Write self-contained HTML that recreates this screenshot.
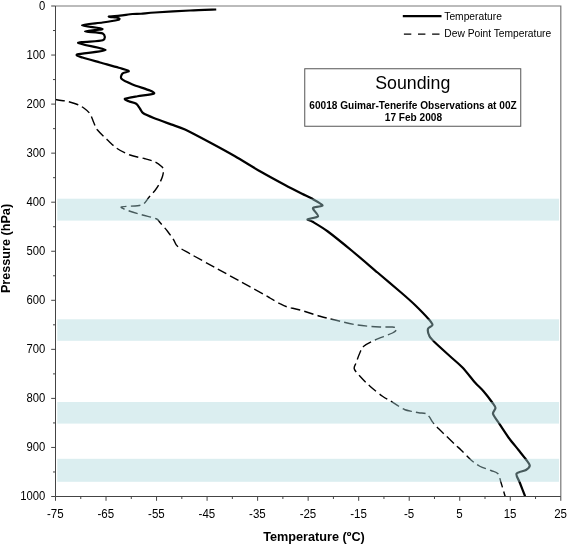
<!DOCTYPE html>
<html lang="en"><head><meta charset="utf-8"><title>Sounding</title>
<style>
html,body{margin:0;padding:0;background:#fff;}
body{width:568px;height:544px;overflow:hidden;}
svg{display:block;font-family:"Liberation Sans",sans-serif;}
</style></head><body>
<svg width="568" height="544" viewBox="0 0 568 544">
<rect x="0" y="0" width="568" height="544" fill="#fff"/>
<path d="M55.5 6.0H560.8V496.5" fill="none" stroke="#787878" stroke-width="1.2"/>
<path d="M216.25 9.5C212.84 9.63 197.96 10.11 190 10.5C182.04 10.89 161.37 12.08 155 12.5C148.63 12.92 143.93 13.55 141 13.75C138.07 13.95 135.23 13.76 132.5 14C129.77 14.24 123.09 15.28 120 15.6C116.91 15.92 109.27 16.25 108.75 16.5C108.23 16.75 114.62 17.24 116 17.5C117.38 17.76 119.21 18.18 119.4 18.5C119.59 18.82 119.70 19.48 117.5 20C115.30 20.52 107.13 21.82 102.5 22.5C97.87 23.18 81.90 24.41 81.9 25.25C81.90 26.09 102.10 28.19 102.5 29C102.90 29.81 84.97 30.91 85 31.5C85.03 32.09 100.44 32.36 102.75 33.5C105.06 34.64 105.97 39.02 102.75 40.25C99.53 41.48 77.63 41.73 78 43C78.37 44.27 105.66 48.52 105.6 50C105.53 51.48 80.50 53.42 77.5 54.4C74.50 55.38 79.58 56.45 82.5 57.5C85.42 58.55 95.29 61.17 100 62.5C104.71 63.83 115.01 66.64 118.75 67.75C122.49 68.86 128.26 70.25 128.75 71C129.24 71.75 123.44 72.49 122.5 73.5C121.56 74.51 120.20 77.33 121.5 78.75C122.80 80.17 128.79 82.86 132.5 84.4C136.21 85.94 147.24 89.38 150 90.6C152.76 91.82 155.38 93.02 153.75 93.75C152.12 94.48 141.24 95.60 137.5 96.25C133.76 96.90 126.14 98.10 125 98.75C123.86 99.40 127.29 100.60 128.75 101.25C130.21 101.90 134.79 102.78 136.25 103.75C137.71 104.72 139.12 107.55 140 108.75C140.88 109.95 141.21 111.80 143 113C144.79 114.20 150.11 116.52 153.75 118C157.39 119.48 166.94 122.91 171 124.4C175.06 125.90 179.93 127.15 185 129.5C190.07 131.85 203.50 139.02 210 142.5C216.50 145.98 228.50 152.51 235 156.25C241.50 159.99 253.50 167.51 260 171.25C266.50 174.99 279.54 182.07 285 185C290.46 187.93 298.57 192.02 302 193.75C305.43 195.48 308.73 196.80 311.4 198.3C314.06 199.80 322.21 204.10 322.5 205.3C322.79 206.50 314.76 206.93 313.6 207.5C312.44 208.07 313.03 208.54 313.6 209.7C314.17 210.86 318.78 215.16 318 216.4C317.22 217.64 308.29 218.55 307.6 219.25C306.91 219.95 310.11 220.24 312.7 221.8C315.29 223.36 322.33 227.42 327.5 231.25C332.67 235.08 346.00 245.89 352.5 251.25C359.00 256.61 371.00 266.98 377.5 272.5C384.00 278.02 397.62 289.52 402.5 293.75C407.38 297.98 411.59 301.69 415 305C418.41 308.31 426.48 316.65 428.75 319.25C431.02 321.85 432.60 323.76 432.5 325C432.40 326.24 428.39 327.29 428 328.75C427.61 330.21 428.59 334.46 429.5 336.25C430.41 338.04 432.33 339.90 435 342.5C437.67 345.10 446.43 353.00 450 356.25C453.57 359.50 459.25 364.09 462.5 367.5C465.75 370.91 472.27 379.41 475 382.5C477.73 385.59 481.26 388.65 483.5 391.25C485.74 393.85 490.69 400.32 492.25 402.5C493.81 404.68 495.40 406.54 495.5 408C495.60 409.46 492.61 411.87 493 413.75C493.39 415.63 496.49 419.41 498.5 422.5C500.51 425.59 505.90 433.93 508.5 437.5C511.10 441.07 516.23 447.14 518.5 450C520.77 452.86 524.54 457.49 526 459.5C527.46 461.51 529.75 464.13 529.75 465.5C529.75 466.87 527.72 468.93 526 470C524.28 471.07 517.31 472.12 516.5 473.75C515.69 475.38 518.63 479.57 519.75 482.5C520.87 485.43 524.40 494.46 525.1 496.25" fill="none" stroke="#000" stroke-width="2.2" stroke-linejoin="round" stroke-linecap="butt"/>
<path d="M55.5 99.5C56.42 99.66 59.41 100.22 61.25 100.5C63.09 100.78 64.40 100.61 67 101.25C69.60 101.89 74.82 103.42 77.5 104.5C80.18 105.58 81.75 106.52 83.75 108C85.75 109.48 88.40 111.43 90 113.75C91.60 116.07 92.55 119.90 93.75 122.5C94.95 125.10 95.30 127.20 97.5 130C99.70 132.80 104.30 137.00 107.5 140C110.70 143.00 113.90 146.35 117.5 148.75C121.10 151.15 125.60 153.40 130 155C134.40 156.60 141.00 157.63 145 158.75C149.00 159.87 152.40 160.80 155 162C157.60 163.20 159.91 165.05 161.25 166.25C162.59 167.45 163.18 167.94 163.4 169.5C163.62 171.06 163.27 173.68 162.6 176C161.93 178.32 160.42 181.68 159.2 184C157.98 186.32 156.66 188.34 155 190.5C153.34 192.66 150.60 195.38 148.8 197.5C147.00 199.62 145.56 202.43 143.75 203.75C141.94 205.07 141.10 205.23 137.5 205.75C133.90 206.27 122.45 206.12 121.25 207C120.05 207.88 126.60 209.97 130 211.25C133.40 212.53 138.30 213.80 142.5 215C146.70 216.20 153.45 217.55 156.25 218.75C159.05 219.95 158.20 220.50 160 222.5C161.80 224.50 165.30 228.45 167.5 231.25C169.70 234.05 172.15 237.60 173.75 240C175.35 242.40 174.90 244.05 177.5 246.25C180.10 248.45 184.00 250.35 190 253.75C196.00 257.15 207.00 263.10 215 267.5C223.00 271.90 232.00 276.85 240 281.25C248.00 285.65 260.20 292.32 265 295C269.80 297.68 267.60 296.60 270 298C272.40 299.40 277.20 302.31 280 303.75C282.80 305.19 284.30 306.00 287.5 307C290.70 308.00 294.80 308.52 300 310C305.20 311.48 314.40 314.65 320 316.25C325.60 317.85 329.00 318.60 335 320C341.00 321.40 350.30 323.88 357.5 325C364.70 326.12 374.40 326.68 380 327C385.60 327.32 389.82 326.72 392.5 327C395.18 327.28 396.75 327.79 396.75 328.75C396.75 329.71 395.98 331.20 392.5 333C389.02 334.80 379.60 337.88 375 340C370.40 342.12 366.15 344.25 363.75 346.25C361.35 348.25 361.20 349.90 360 352.5C358.80 355.10 357.17 359.90 356.25 362.5C355.33 365.10 353.65 366.55 354.25 368.75C354.85 370.95 357.48 373.45 360 376.25C362.52 379.05 366.40 383.05 370 386.25C373.60 389.45 379.30 393.95 382.5 396.25C385.70 398.55 387.40 399.00 390 400.6C392.60 402.20 396.35 404.79 398.75 406.25C401.15 407.71 402.80 408.91 405 409.75C407.20 410.59 410.30 411.02 412.5 411.5C414.70 411.98 416.55 412.39 418.75 412.75C420.95 413.11 424.55 413.09 426.25 413.75C427.95 414.41 428.40 415.60 429.4 416.9C430.40 418.20 431.51 420.51 432.5 421.9C433.49 423.29 434.40 424.30 435.6 425.6C436.80 426.90 436.90 426.99 440 430C443.10 433.01 451.64 441.20 455 444.4C458.36 447.60 458.44 447.50 461 450C463.56 452.50 468.00 457.40 471 460C474.00 462.60 476.55 464.57 479.75 466.25C482.95 467.93 488.08 469.30 491 470.5C493.92 471.70 496.40 471.83 498 473.75C499.60 475.67 499.86 478.90 501 482.5C502.14 486.10 504.44 494.05 505.1 496.25" fill="none" stroke="#000" stroke-width="1.4" stroke-dasharray="9.6 4.2" stroke-linejoin="round"/>
<rect x="57.3" y="198.7" width="501.7" height="21.9" fill="rgb(170,214,219)" fill-opacity="0.42"/>
<rect x="57.3" y="319.3" width="501.7" height="21.5" fill="rgb(170,214,219)" fill-opacity="0.42"/>
<rect x="57.3" y="402.0" width="501.7" height="21.6" fill="rgb(170,214,219)" fill-opacity="0.42"/>
<rect x="57.3" y="458.8" width="501.7" height="23" fill="rgb(170,214,219)" fill-opacity="0.42"/>
<path d="M55.5 6.0V496.5H560.8" fill="none" stroke="#444" stroke-width="1"/>
<path d="M51.2 6H55.5M53.0 30.525H55.5M51.2 55.05H55.5M53.0 79.575H55.5M51.2 104.1H55.5M53.0 128.625H55.5M51.2 153.15H55.5M53.0 177.675H55.5M51.2 202.2H55.5M53.0 226.725H55.5M51.2 251.25H55.5M53.0 275.775H55.5M51.2 300.3H55.5M53.0 324.825H55.5M51.2 349.35H55.5M53.0 373.875H55.5M51.2 398.4H55.5M53.0 422.925H55.5M51.2 447.45H55.5M53.0 471.975H55.5M51.2 496.5H55.5M55.5 496.5V500.8M80.765 496.5V499.0M106.03 496.5V500.8M131.295 496.5V499.0M156.56 496.5V500.8M181.825 496.5V499.0M207.09 496.5V500.8M232.355 496.5V499.0M257.62 496.5V500.8M282.885 496.5V499.0M308.15 496.5V500.8M333.415 496.5V499.0M358.68 496.5V500.8M383.945 496.5V499.0M409.21 496.5V500.8M434.475 496.5V499.0M459.74 496.5V500.8M485.005 496.5V499.0M510.27 496.5V500.8M535.535 496.5V499.0M560.8 496.5V500.8" fill="none" stroke="#444" stroke-width="1"/>
<g font-size="12" fill="#000">
<text transform="translate(45.3,9.9) scale(0.94,1)" text-anchor="end">0</text>
<text transform="translate(45.3,58.95) scale(0.94,1)" text-anchor="end">100</text>
<text transform="translate(45.3,108) scale(0.94,1)" text-anchor="end">200</text>
<text transform="translate(45.3,157.05) scale(0.94,1)" text-anchor="end">300</text>
<text transform="translate(45.3,206.1) scale(0.94,1)" text-anchor="end">400</text>
<text transform="translate(45.3,255.15) scale(0.94,1)" text-anchor="end">500</text>
<text transform="translate(45.3,304.2) scale(0.94,1)" text-anchor="end">600</text>
<text transform="translate(45.3,353.25) scale(0.94,1)" text-anchor="end">700</text>
<text transform="translate(45.3,402.3) scale(0.94,1)" text-anchor="end">800</text>
<text transform="translate(45.3,451.35) scale(0.94,1)" text-anchor="end">900</text>
<text transform="translate(45.3,500.4) scale(0.94,1)" text-anchor="end">1000</text>
<text transform="translate(55.3,518) scale(0.96,1)" text-anchor="middle">-75</text>
<text transform="translate(105.83,518) scale(0.96,1)" text-anchor="middle">-65</text>
<text transform="translate(156.36,518) scale(0.96,1)" text-anchor="middle">-55</text>
<text transform="translate(206.89,518) scale(0.96,1)" text-anchor="middle">-45</text>
<text transform="translate(257.42,518) scale(0.96,1)" text-anchor="middle">-35</text>
<text transform="translate(307.95,518) scale(0.96,1)" text-anchor="middle">-25</text>
<text transform="translate(358.48,518) scale(0.96,1)" text-anchor="middle">-15</text>
<text transform="translate(409.01,518) scale(0.96,1)" text-anchor="middle">-5</text>
<text transform="translate(459.54,518) scale(0.96,1)" text-anchor="middle">5</text>
<text transform="translate(510.07,518) scale(0.96,1)" text-anchor="middle">15</text>
<text transform="translate(560.6,518) scale(0.96,1)" text-anchor="middle">25</text>
</g>
<text transform="translate(314,541.2) scale(1.023,1)" text-anchor="middle" font-size="12.4" font-weight="bold">Temperature (ºC)</text>
<text transform="translate(10.1,248.5) rotate(-90) scale(1.02,1)" text-anchor="middle" font-size="12.4" font-weight="bold">Pressure (hPa)</text>
<path d="M402.8 16.2H441.5" stroke="#000" stroke-width="2.2" fill="none"/>
<path d="M403.9 34.2H441" stroke="#000" stroke-width="1.3" stroke-dasharray="7.4 6.7" fill="none"/>
<text x="444.3" y="19.6" font-size="10.25">Temperature</text>
<text x="444.3" y="37" font-size="10.25">Dew Point Temperature</text>
<rect x="304.75" y="68.75" width="216" height="57.5" fill="#fff" stroke="#555" stroke-width="1"/>
<text x="412.75" y="88.75" text-anchor="middle" font-size="17.8">Sounding</text>
<text x="413" y="109.25" text-anchor="middle" font-size="10.1" font-weight="bold">60018 Guimar-Tenerife Observations at 00Z</text>
<text x="413.4" y="121.25" text-anchor="middle" font-size="10.1" font-weight="bold">17 Feb 2008</text>
</svg></body></html>
